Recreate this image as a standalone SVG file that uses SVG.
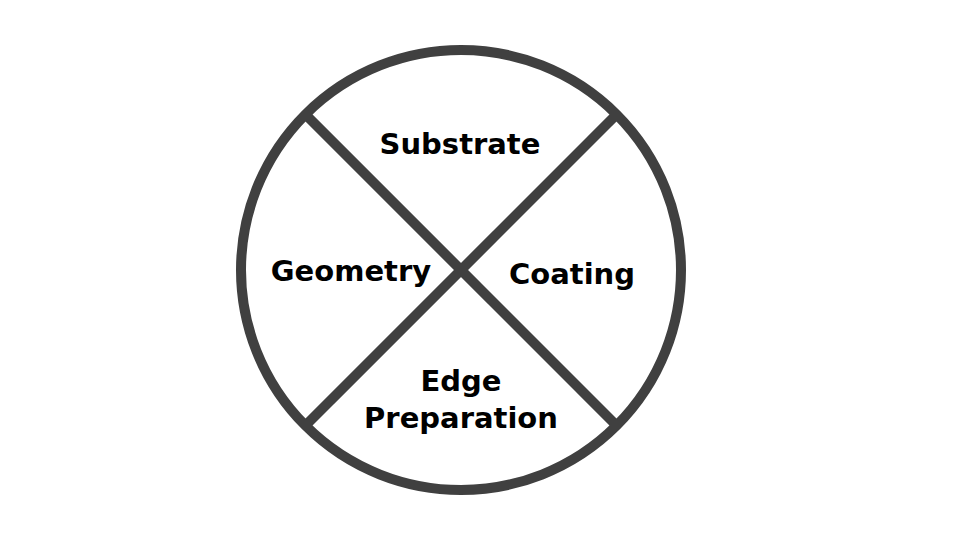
<svg xmlns="http://www.w3.org/2000/svg" width="960" height="540" viewBox="0 0 960 540">
<style>
.s{fill:none;stroke:#404040;stroke-width:10}
.t{font-family:"DejaVu Sans",sans-serif;font-weight:bold;font-size:29px;fill:#000;text-anchor:middle}
</style>
<rect width="960" height="540" fill="#fff"/>
<g id="circle"><circle class="s" cx="461" cy="270" r="220"/></g>
<g id="connectors">
<line class="s" x1="305" y1="114" x2="617" y2="426"/>
<line class="s" x1="617" y1="114" x2="305" y2="426"/>
</g>
<g id="substrate"><text class="t" x="460" y="154">Substrate</text></g>
<g id="geometry"><text class="t" x="351" y="281">Geometry</text></g>
<g id="coating"><text class="t" x="572" y="284">Coating</text></g>
<g id="edge"><text class="t" x="461" y="391">Edge</text><text class="t" x="461" y="428">Preparation</text></g>
</svg>
